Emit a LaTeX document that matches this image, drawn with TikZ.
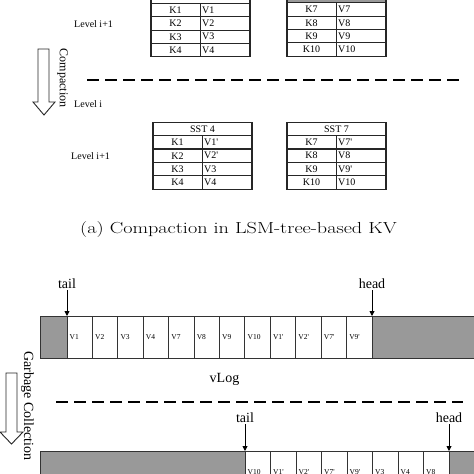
\documentclass[tikz,border=0pt]{standalone}
\usepackage{fontspec}
\newfontfamily\tnr{Liberation Serif}
\usetikzlibrary{arrows.meta}
\tikzset{
  tabline/.style={draw=black!85, line width=1.1pt},
  tabtxt/.style={font=\tnr\fontsize{10}{10}\selectfont, inner sep=1pt},
  lbl/.style={font=\tnr\fontsize{10}{10}\selectfont, inner sep=0pt, anchor=west},
  big/.style={font=\tnr\fontsize{14}{14}\selectfont, inner sep=0pt},
  celltxt/.style={font=\tnr\fontsize{7.5}{7.5}\selectfont, inner sep=0pt, anchor=west},
  barline/.style={draw=black!80, line width=0.9pt},
  grayfill/.style={fill=black!40},
  dashline/.style={draw=black, line width=1.6pt, dash pattern=on 12pt off 6pt},
  ptr/.style={draw=black, line width=0.9pt, -{Triangle[length=5pt,width=5pt]}},
  blockarrow/.style={draw=black!85, line width=0.9pt, fill=white},
}
% #1 x0, #2 y0, #3 name, #4 header, #5 header fill, #6 rows
\newcommand\sstab[6]{%
  \begin{scope}[shift={(#1,#2)}]
    \fill[#5] (0,0) rectangle (99,13.35);
    \node[tabtxt] (#3h) at (49.5,6.7) {#4};
    \foreach \k/\v [count=\i] in {#6} {
      \node[tabtxt] (#3k\i) at (24.5,13.35*\i+6.7) {\k};
      \node[tabtxt,anchor=west] (#3v\i) at (50,13.35*\i+6.7) {\v};
    }
    \draw[tabline] (0,0) rectangle (99,66.75);
    \foreach \i in {1,...,4} \draw[tabline] (0,13.35*\i) -- (99,13.35*\i);
    \draw[tabline] (49.5,13.35) -- (49.5,66.75);
  \end{scope}}
\begin{document}
\begin{tikzpicture}[x=1pt,y=-1pt]
\useasboundingbox (0,0) rectangle (474,474);
\clip (0,0) rectangle (474,474);
\fill[white] (0,0) rectangle (474,474);

% ---------- top part ----------
\sstab{151}{-10}{ta}{SST 4}{white}{K1/V1,K2/V2,K3/V3,K4/V4}
\sstab{287}{-10.6}{tb}{SST 7}{black!40}{K7/V7,K8/V8,K9/V9,K10/V10}
\node[lbl] (lv1) at (74,24) {Level i+1};

\draw[blockarrow] (38,49) -- (49,49) -- (49,102) -- (55,102) -- (44,115) -- (33,102) -- (38,102) -- cycle;
\node[font=\tnr\fontsize{12}{12}\selectfont, rotate=-90, inner sep=0pt] (comp) at (62.5,78) {Compaction};

\coordinate (d1a) at (87,80);
\coordinate (d1b) at (460,80);
\draw[dashline] (d1a) -- (d1b);
\node[lbl] (lv0) at (74,104) {Level i};

\sstab{153}{122.3}{tc}{SST 4}{white}{K1/V1',K2/V2',K3/V3,K4/V4}
\sstab{287}{122.3}{td}{SST 7}{white}{K7/V7',K8/V8,K9/V9',K10/V10}
\node[lbl] (lv2) at (71,156) {Level i+1};

\node[inner sep=0pt, font=\fontsize{16}{16}\selectfont, xscale=1.26] (capa) at (238.5,230) {(a) Compaction in LSM-tree-based KV};

% ---------- bottom part ----------
\node[big] (tail1) at (67,284) {tail};
\node[big] (head1) at (372,284) {head};
\coordinate (t1) at (67,316);
\coordinate (h1) at (372,316);
\draw[ptr] (tail1.south) ++(0,1) -- (t1);
\draw[ptr] (head1.south) ++(0,1) -- (h1);

\fill[grayfill] (40,316) rectangle (67,358);
\fill[grayfill] (372,316) rectangle (480,358);
\foreach \v [count=\i from 0] in {V1,V2,V3,V4,V7,V8,V9,V10,V1',V2',V7',V9'} {
  \pgfmathsetmacro\xl{67+25.42*\i}
  \draw[barline] (\xl,316) -- (\xl,358);
  \node[celltxt] (ca\i) at (\xl+2.5,337) {\v};
}
\draw[barline] (372,316) -- (372,358);
\draw[barline] (40,316) rectangle (480,358);

\node[big] (vlog) at (224.5,379) {vLog};

\draw[blockarrow] (6,373) -- (17,373) -- (17,432) -- (23,432) -- (11.5,444) -- (0,432) -- (6,432) -- cycle;
\node[big, rotate=-90] (gc) at (27.5,406) {Garbage Collection};

\coordinate (d2a) at (56,402);
\coordinate (d2b) at (463,402);
\draw[dashline] (d2a) -- (d2b);

\node[big] (tail2) at (245,418) {tail};
\node[big] (head2) at (449,418) {head};
\coordinate (t2) at (245,451);
\coordinate (h2) at (449,451);
\draw[ptr] (tail2.south) ++(0,1) -- (t2);
\draw[ptr] (head2.south) ++(0,1) -- (h2);

\fill[grayfill] (40,451) rectangle (245,495);
\fill[grayfill] (449,451) rectangle (480,495);
\foreach \v [count=\i from 0] in {V10,V1',V2',V7',V9',V3,V4,V8} {
  \pgfmathsetmacro\xl{245+25.5*\i}
  \draw[barline] (\xl,451) -- (\xl,495);
  \node[celltxt] (cb\i) at (\xl+2.5,472) {\v};
}
\draw[barline] (449,451) -- (449,495);
\draw[barline] (40,451) rectangle (480,495);
\end{tikzpicture}
\end{document}
